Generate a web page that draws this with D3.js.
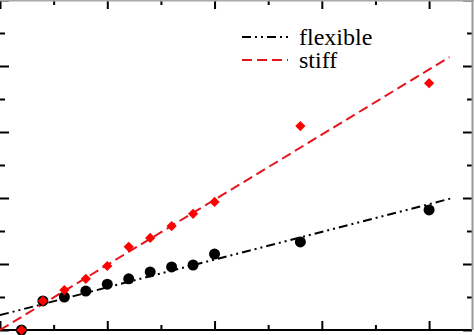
<!DOCTYPE html>
<meta charset="utf-8">
<style>
  body { margin: 0; background: #fff; }
</style>
<body>
<svg width="474" height="335"></svg>
<script src="https://cdnjs.cloudflare.com/ajax/libs/d3/7.8.5/d3.min.js"></script>
<script>

// data
var xVals = [1, 2, 3, 4, 5, 6, 7, 8, 9, 10, 14, 20];
var flexible = [0, 0.88, 1.0, 1.18, 1.39, 1.55, 1.76, 1.91, 1.97, 2.30, 2.67, 3.64];
var stiff = [0, 0.88, 1.21, 1.55, 1.94, 2.52, 2.79, 3.15, 3.52, 3.88, 6.18, 7.48];
var flexibleFit = [[0, 0.45], [21.1, 4.0]];
var stiffFit = [[0, 0.0], [20.95, 8.27]];
var legendLabels = ["flexible", "stiff"];
var xMajor = [0, 5, 10, 15, 20];
var xMinor = [2.5, 7.5, 12.5, 17.5];
var yMajor = [0, 2, 4, 6, 8, 10];
var yMinor = [1, 3, 5, 7, 9];

var svg = d3.select("svg");
var width = 472, height = 330;

var x = d3.scaleLinear().domain([0, 22]).range([0, width]);
var y = d3.scaleLinear().domain([0, 10]).range([height, 0]);

function tickAxis(axis, vals, size) {
  return axis.tickValues(vals).tickSize(size).tickFormat("");
}

// ticks, all pointing inward
var axes = [
  [d3.axisBottom(x), xMajor, -9, "translate(0," + height + ")"],
  [d3.axisBottom(x), xMinor, -5, "translate(0," + height + ")"],
  [d3.axisTop(x), xMajor, -9, "translate(0,0)"],
  [d3.axisTop(x), xMinor, -5, "translate(0,0)"],
  [d3.axisLeft(y), yMajor, -9, "translate(0,0)"],
  [d3.axisLeft(y), yMinor, -5, "translate(0,0)"],
  [d3.axisRight(y), yMajor, -9, "translate(" + width + ",0)"],
  [d3.axisRight(y), yMinor, -5, "translate(" + width + ",0)"]
];
axes.forEach(function(a) {
  var g = svg.append("g")
    .attr("transform", a[3])
    .call(tickAxis(a[0], a[1], a[2]));
  g.select(".domain").remove();
  g.selectAll("line").attr("stroke", "#000").attr("stroke-width", 2);
});

// frame
svg.append("line")
  .attr("x1", 0).attr("x2", width)
  .attr("y1", height).attr("y2", height)
  .attr("stroke", "#000").attr("stroke-width", 2);
svg.append("line")
  .attr("x1", 0).attr("x2", width + 2)
  .attr("y1", 0.5).attr("y2", 0.5)
  .attr("stroke", "#aaa").attr("stroke-width", 2);
svg.append("line")
  .attr("x1", width + 0.5).attr("x2", width + 0.5)
  .attr("y1", 0).attr("y2", height)
  .attr("stroke", "#999").attr("stroke-width", 2);

var line = d3.line()
  .x(function(d) { return x(d[0]); })
  .y(function(d) { return y(d[1]); });

svg.append("path")
  .attr("d", line(flexibleFit))
  .attr("fill", "none")
  .attr("stroke", "#000")
  .attr("stroke-width", 2)
  .attr("stroke-dasharray", "9,4,2,4,2,4");

svg.append("path")
  .attr("d", line(stiffFit))
  .attr("fill", "none")
  .attr("stroke", "#e8141c")
  .attr("stroke-width", 2)
  .attr("stroke-dasharray", "10,5");

svg.selectAll(".flex").data(xVals).enter().append("circle")
  .attr("class", "flex")
  .attr("cx", function(d) { return x(d); })
  .attr("cy", function(d, i) { return y(flexible[i]); })
  .attr("r", 5.5)
  .attr("fill", "#000");

var diamond = d3.symbol().type(d3.symbolSquare).size(52);
svg.selectAll(".stiff").data(xVals).enter().append("path")
  .attr("class", "stiff")
  .attr("d", diamond)
  .attr("transform", function(d, i) {
    return "translate(" + x(d) + "," + y(stiff[i]) + ") rotate(45)";
  })
  .attr("fill", "#f00");

// legend
var legend = svg.append("g").attr("transform", "translate(242,37)");
var legendDash = ["9,4,2,4,2,4", "10,5"];
var legendColor = ["#000", "#e8141c"];
legendLabels.forEach(function(lab, i) {
  legend.append("line")
    .attr("x1", 0).attr("x2", 46)
    .attr("y1", i * 23).attr("y2", i * 23)
    .attr("stroke", legendColor[i])
    .attr("stroke-width", 2)
    .attr("stroke-dasharray", legendDash[i]);
  legend.append("text")
    .attr("x", 57)
    .attr("y", i * 23 + 8)
    .style("font-family", "'Liberation Serif', 'Times New Roman', serif")
    .style("font-size", "24px")
    .attr("fill", "#000")
    .text(lab);
});

</script>
</body>
